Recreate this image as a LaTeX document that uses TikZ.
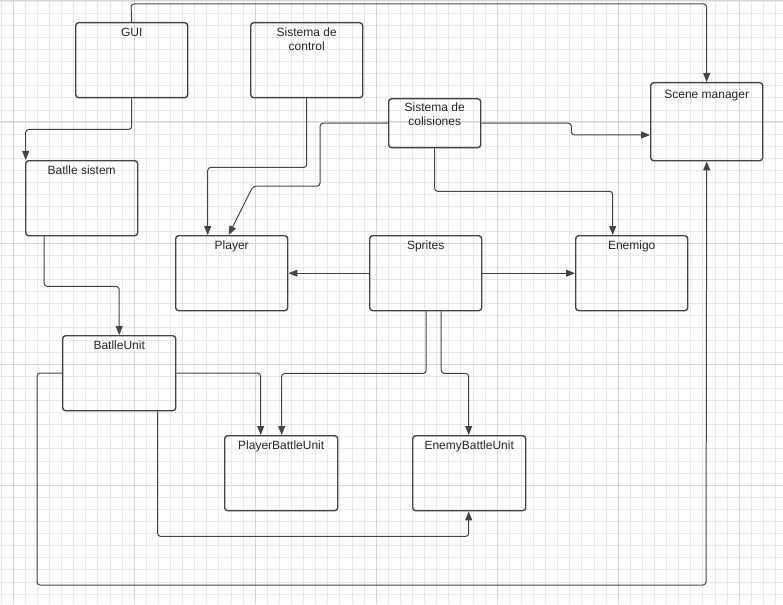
\documentclass[tikz,border=0pt]{standalone}
\usepackage{fontspec}
\setmainfont{Liberation Sans}
\usetikzlibrary{arrows.meta}
\definecolor{ln}{HTML}{444444}
\begin{document}
\begin{tikzpicture}[x=1pt,y=-1pt,
  box/.style={draw=ln,line width=1.4pt,rounded corners=3pt,minimum width=#1,anchor=north west,inner sep=0pt},
  lab/.style={anchor=north,font=\fontsize{12}{13.5}\selectfont,text=black!85,align=center,inner sep=0pt},
  arr/.style={draw=ln,line width=1pt,rounded corners=3pt,-{Triangle[length=9pt,width=7pt]}}]
\useasboundingbox (0,0) rectangle (783,604);
\fill[white] (0,0) rectangle (783,604);
\foreach \i in {0,...,65} {\draw[black!9,line width=0.6pt] ({13+12.1*(\i-1)},0) -- ++(0,604);}
\foreach \i in {0,...,50} {\draw[black!9,line width=0.6pt] (0,{1+12.1*\i}) -- ++(783,0);}
\foreach \i in {0,...,6} {\draw[black!16,line width=1pt] ({13+121*\i},0) -- ++(0,604);}
\foreach \i in {0,...,4} {\draw[black!16,line width=1pt] (0,{1+121*\i}) -- ++(783,0);}
\node[box=112pt,minimum height=75pt] (gui) at (75,22) {};
\node[box=112pt,minimum height=75pt] (ctl) at (250,22) {};
\node[box=92pt,minimum height=49pt] (col) at (388,98) {};
\node[box=112pt,minimum height=78pt] (scn) at (650,82) {};
\node[box=112pt,minimum height=75pt] (bs) at (25,160) {};
\node[box=112pt,minimum height=75pt] (ply) at (175,235) {};
\node[box=112pt,minimum height=75pt] (spr) at (369,235) {};
\node[box=112pt,minimum height=75pt] (ene) at (575,235) {};
\node[box=113pt,minimum height=75pt] (bu) at (62,335) {};
\node[box=113pt,minimum height=75pt] (pbu) at (224,435) {};
\node[box=113pt,minimum height=75pt] (ebu) at (412,435) {};
\node[lab] (tgui) at ([yshift=-6pt]gui.north) {GUI};
\node[lab] (tctl) at ([yshift=-6pt]ctl.north) {Sistema de\\control};
\node[lab] (tcol) at ([yshift=-5pt]col.north) {Sistema de\\colisiones};
\node[lab] (tscn) at ([yshift=-8pt]scn.north) {Scene manager};
\node[lab] (tbs) at ([yshift=-6pt]bs.north) {Batlle sistem};
\node[lab] (tply) at ([yshift=-6pt]ply.north) {Player};
\node[lab] (tspr) at ([yshift=-6pt]spr.north) {Sprites};
\node[lab] (tene) at ([yshift=-6pt]ene.north) {Enemigo};
\node[lab] (tbu) at ([yshift=-6pt]bu.north) {BatlleUnit};
\node[lab] (tpbu) at ([yshift=-6pt]pbu.north) {PlayerBattleUnit};
\node[lab] (tebu) at ([yshift=-6pt]ebu.north) {EnemyBattleUnit};
\coordinate (c1) at (131,4);
\draw[arr] (gui.north) -- (c1) -| (scn.north);
\draw[arr] (gui.south) -- ++(0,31) -| ([xshift=-56pt]bs.north);
\draw[arr] (ctl.south) -- ++(0,69) -| ([xshift=-24pt]ply.north);
\draw[arr] (col.west) -- ++(-68,0) |- ++(-67,63) -- ([xshift=-3pt]ply.north);
\draw[arr] (col.east) -- ++(90,0) |- (650,135);
\draw[arr] (col.south) -- ++(0,43) -| ([xshift=-19pt]ene.north);
\draw[arr] (spr.west) -- (ply.east);
\draw[arr] (spr.east) -- (ene.east -| ene.west);
\draw[arr] ([xshift=0.5pt]spr.south) -- ++(0,62) -| ([xshift=0.5pt]pbu.north);
\draw[arr] ([xshift=15.5pt]spr.south) -- ++(0,62) -| ([xshift=-0.5pt]ebu.north);
\draw[arr] (bu.east) -| ([xshift=-20.5pt]pbu.north);
\draw[arr] ([xshift=38.5pt]bu.south) -- ++(0,125) -| ([xshift=-0.5pt]ebu.south);
\draw[arr] (bu.west) -- ++(-25,0) |- (706,585) -- (scn.south);
\draw[arr] ([xshift=-37.5pt]bs.south) -- ++(0,50) -| (bu.north);
\end{tikzpicture}
\end{document}
